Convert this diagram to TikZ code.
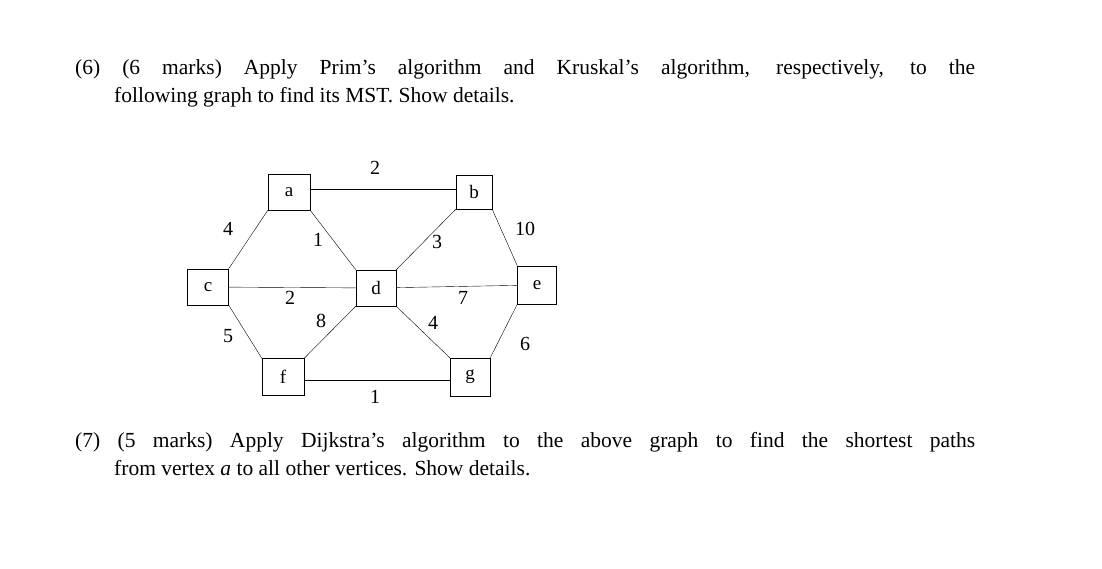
\documentclass[tikz,border=0pt]{standalone}
\usepackage{fontspec}
\setmainfont{Liberation Serif}
\begin{document}
\begin{tikzpicture}[x=1pt,y=-1pt,
  v/.style={draw,minimum width=40pt,minimum height=36pt,inner sep=0pt,font=\fontsize{19}{20}\selectfont},
  w/.style={font=\fontsize{20}{22}\selectfont,inner sep=0pt},
  para/.style={anchor=north west,inner sep=0pt,font=\fontsize{21.5}{28.5}\selectfont}]
\useasboundingbox (0,0) rectangle (1102,569);
\node[para] (p6) at (75,59) {\parbox[t]{900pt}{\hangindent=39pt\hangafter=1 (6) (6 marks) Apply Prim’s algorithm and Kruskal’s algorithm, respectively, to the\linebreak following graph to find its MST. Show details.}};
\node[para] (p7) at (75,432) {\parbox[t]{900pt}{\hangindent=39pt\hangafter=1 (7) (5 marks) Apply Dijkstra’s algorithm to the above graph to find the shortest paths\linebreak from vertex \textit{a} to all other vertices. Show details.}};
\node[v,minimum width=42pt] (a) at (289,192) {a};
\node[v,minimum width=36pt,minimum height=34pt] (b) at (474,192) {b};
\node[v,minimum width=41pt] (c) at (208,287) {c};
\node[v] (d) at (376,288) {d};
\node[v,minimum width=39pt,minimum height=38pt] (e) at (537,285) {e};
\node[v,minimum width=42pt,minimum height=37pt] (f) at (283,377) {f};
\node[v,minimum height=38pt] (g) at (470,377) {g};
\draw (a.east|-0,189) -- (b.west|-0,189);
\draw (a.south west) -- (c.north east);
\draw (a.south east) -- (d.north west);
\draw (b.south west) -- (d.north east);
\draw (b.south east) -- (e.north west);
\draw (c) -- (d);
\draw (d) -- (e);
\draw (c.south east) -- (f.north west);
\draw (d.south west) -- (f.north east);
\draw (d.south east) -- (g.north west);
\draw (e.south west) -- (g.north east);
\draw (f.east|-0,380) -- (g.west|-0,380);
\node[w] (l1) at (375,168) {2};
\node[w] (l2) at (228,229) {4};
\node[w] (l3) at (318,240) {1};
\node[w] (l4) at (437,242) {3};
\node[w] (l5) at (525,229) {10};
\node[w] (l6) at (290,298) {2};
\node[w] (l7) at (463,298) {7};
\node[w] (l8) at (321,321) {8};
\node[w] (l9) at (433,323) {4};
\node[w] (l10) at (228,336) {5};
\node[w] (l11) at (525,344) {6};
\node[w] (l12) at (375,397) {1};
\end{tikzpicture}
\end{document}
